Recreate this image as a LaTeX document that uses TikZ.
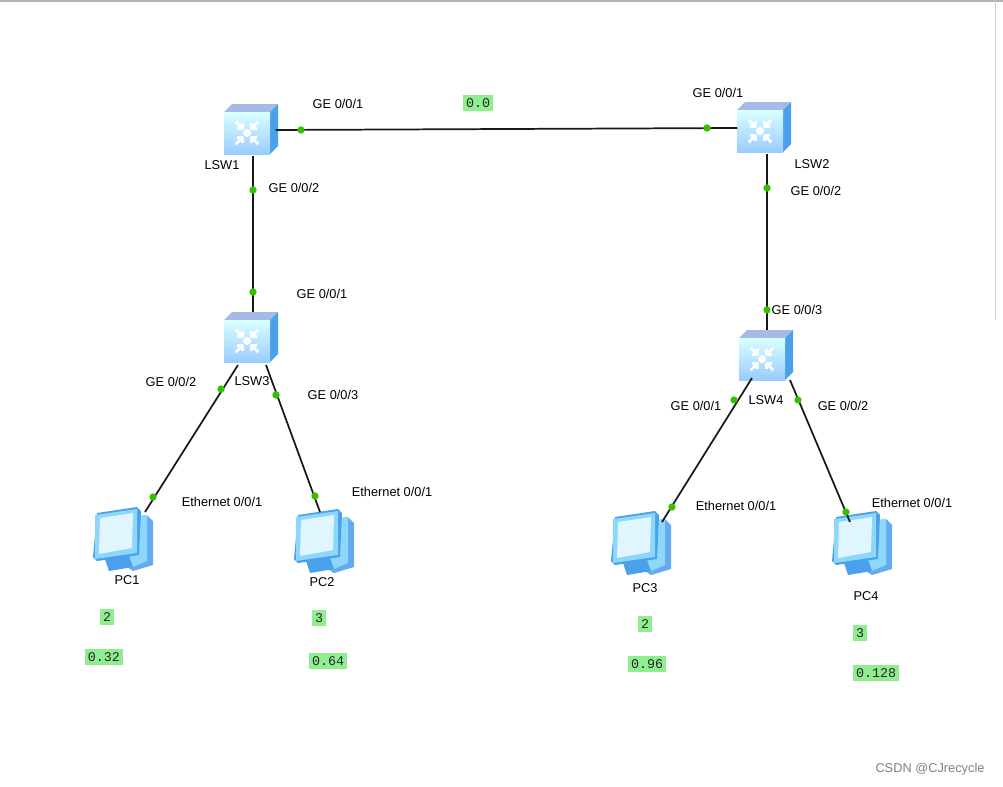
\documentclass[tikz,border=0pt]{standalone}
\usepackage{fontspec}
\setmainfont{Liberation Sans}
\newfontfamily\monof{Liberation Mono}
\definecolor{pcA}{RGB}{140,215,250}
\definecolor{pcB}{RGB}{100,170,240}
\definecolor{pcC}{RGB}{225,245,255}
\definecolor{pcD}{RGB}{75,160,235}
\definecolor{tagg}{RGB}{144,238,144}
\begin{document}
\begin{tikzpicture}[x=0.75pt,y=-0.75pt,
  lbl/.style={font=\fontsize{9.6}{11}\selectfont,inner sep=0pt},
  tag/.style={font=\monof\fontsize{10}{11}\selectfont,fill=tagg,inner sep=2.6pt,text=black!85},
  dev/.style={minimum width=38pt,minimum height=36pt,inner sep=0pt},
  pcn/.style={minimum width=46pt,minimum height=44pt,inner sep=0pt},
  link/.style={line width=1.3pt,black!90},
  pt/.style={circle,fill=green!70!black!80!yellow,inner sep=0pt,minimum size=5.5pt}]
\useasboundingbox (0,0) rectangle (1003,786);
\draw[gray!60,line width=1pt] (0,1) -- (1003,1);
\draw[gray!40] (995,0) -- (995,320);
\tikzset{swicon/.pic={
  \fill[cyan!45!blue!35] (-26,-18) -- (-18,-26) -- (28,-26) -- (20,-18) -- cycle;
  \fill[pcD] (20,-18) -- (28,-26) -- (28,16) -- (20,24) -- cycle;
  \shade[top color=cyan!15,bottom color=cyan!50!blue!40] (-26,-18) rectangle (20,24);
  \foreach \a in {45,135,225,315}{
    \begin{scope}[shift={(-3,3)},rotate=\a]
    \draw[white,line width=2pt] (6,0) -- (16,0);
    \draw[white,line width=2pt] (6,0) -- (10,-4);
    \draw[white,line width=2pt] (6,0) -- (10,4);
    \end{scope}}
  \fill[white] (-3,3) circle (4);
}}
\tikzset{pcicon/.pic={
  \fill[pcB] (0,-25) -- (20,-28) -- (26,-22) -- (26,22) -- (6,28) -- (0,24) -- cycle;
  \fill[pcA] (0,-25) -- (20,-28) -- (20,18) -- (6,24) -- (0,24) -- cycle;
  \fill[pcD] (-30,-30) -- (10,-36) -- (14,-32) -- (12,12) -- (-30,18) -- (-34,14) -- cycle;
  \fill[pcA] (-32,-28) -- (10,-34) -- (10,10) -- (-32,16) -- cycle;
  \fill[pcC] (-27,-25) -- (6,-30) -- (5,5) -- (-28,11) -- cycle;
  \fill[pcD] (-22,16) -- (2,13) -- (6,24) -- (-18,28) -- cycle;
}}
\pic at (250,130) {swicon};
\pic at (763,128) {swicon};
\pic at (250,338) {swicon};
\pic at (765,356) {swicon};
\node[dev] (s1) at (250,130) {};
\node[dev] (s2) at (763,128) {};
\node[dev] (s3) at (250,338) {};
\node[dev] (s4) at (765,356) {};
\pic at (127,543) {pcicon};
\pic at (328,545) {pcicon};
\pic at (645,547) {pcicon};
\pic at (866,547) {pcicon};
\node[pcn] (p1) at (127,543) {};
\node[pcn] (p2) at (328,545) {};
\node[pcn] (p3) at (645,547) {};
\node[pcn] (p4) at (866,547) {};
\draw[link] (s1.east) -- (s2.west);
\draw[link] (253,156) -- (253,312);
\draw[link] (767,154) -- (767,330);
\draw[link] (238,365) -- (145,512);
\draw[link] (266,365) -- (320,512);
\draw[link] (752,378) -- (662,522);
\draw[link] (790,380) -- (850,522);
\foreach \p in {(301,130),(707,128),(253,190),(253,292),(767,188),(767,310),
  (221,389),(153,497),(276,395),(315,496),(734,400),(672,507),(798,400),(846,512)}
  \node[pt] at \p {};
\node[lbl] (l1) at (338,104) {GE 0/0/1};
\node[lbl] (l2) at (718,93) {GE 0/0/1};
\node[lbl] (l3) at (222,165) {LSW1};
\node[lbl] (l4) at (812,164) {LSW2};
\node[lbl] (l5) at (294,188) {GE 0/0/2};
\node[lbl] (l6) at (816,191) {GE 0/0/2};
\node[lbl] (l7) at (322,294) {GE 0/0/1};
\node[lbl] (l8) at (797,310) {GE 0/0/3};
\node[lbl] (l9) at (171,382) {GE 0/0/2};
\node[lbl] (l10) at (252,381) {LSW3};
\node[lbl] (l11) at (333,395) {GE 0/0/3};
\node[lbl] (l12) at (696,406) {GE 0/0/1};
\node[lbl] (l13) at (766,400) {LSW4};
\node[lbl] (l14) at (843,406) {GE 0/0/2};
\node[lbl] (l15) at (222,502) {Ethernet 0/0/1};
\node[lbl] (l16) at (392,492) {Ethernet 0/0/1};
\node[lbl] (l17) at (736,506) {Ethernet 0/0/1};
\node[lbl] (l18) at (912,503) {Ethernet 0/0/1};
\node[lbl] (l19) at (127,580) {PC1};
\node[lbl] (l20) at (322,582) {PC2};
\node[lbl] (l21) at (645,588) {PC3};
\node[lbl] (l22) at (866,596) {PC4};
\node[tag] (t0) at (478,103) {0.0};
\node[tag] (t1) at (107,617) {2};
\node[tag] (t2) at (104,657) {0.32};
\node[tag] (t3) at (319,618) {3};
\node[tag] (t4) at (328,661) {0.64};
\node[tag] (t5) at (645,624) {2};
\node[tag] (t6) at (647,664) {0.96};
\node[tag] (t7) at (860,633) {3};
\node[tag] (t8) at (876,673) {0.128};
\node[lbl,text=gray] (wm) at (930,769) {CSDN @CJrecycle};
\end{tikzpicture}
\end{document}
